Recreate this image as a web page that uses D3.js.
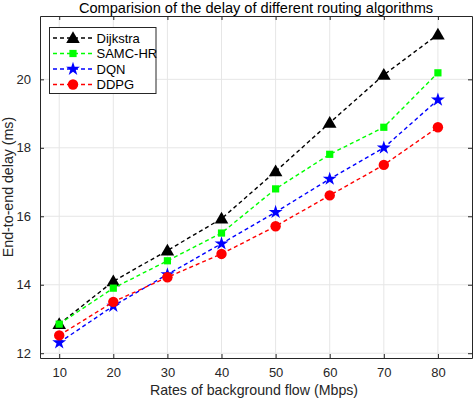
<!DOCTYPE html>
<html><head><meta charset="utf-8">
<script src="https://cdn.jsdelivr.net/npm/d3@7"></script>
<style>body{margin:0;background:#fff}svg{display:block}text{font-family:"Liberation Sans",Arial,sans-serif}</style>
</head><body><svg id="c" width="474" height="399"></svg>
<script>
const rates = [10, 20, 30, 40, 50, 60, 70, 80];
const dijkstra = [12.85, 14.1, 15.0, 15.93, 17.31, 18.73, 20.13, 21.31];
const samcHr   = [12.85, 13.9, 14.7, 15.51, 16.8, 17.81, 18.6, 20.19];
const dqn      = [12.31, 13.38, 14.3, 15.2, 16.12, 17.09, 18.0, 19.4];
const ddpg     = [12.52, 13.5, 14.22, 14.9, 15.71, 16.61, 17.5, 18.6];
const seriesNames = ["Dijkstra", "SAMC-HR", "DQN", "DDPG"];
const xTicks = [10, 20, 30, 40, 50, 60, 70, 80];
const yTicks = [12, 14, 16, 18, 20];

const series = [
  {name: seriesNames[0], values: dijkstra, color: "#000000", sym: d3.symbolTriangle, size: 80},
  {name: seriesNames[1], values: samcHr, color: "#00ff00", sym: d3.symbolSquare, size: 52},
  {name: seriesNames[2], values: dqn, color: "#0000ff", sym: d3.symbolStar, size: 60},
  {name: seriesNames[3], values: ddpg, color: "#ff0000", sym: d3.symbolCircle, size: 85}
];

const svg = d3.select("#c");
const L = 40, R = 472, T = 16, B = 358;
const x = d3.scaleLinear().domain([6.45, 86.3]).range([L, R]);
const y = d3.scaleLinear().domain([11.86, 21.85]).range([B, T]);

// grid
const g = svg.append("g");
g.selectAll(".gx").data(xTicks).enter().append("line")
  .attr("x1", d => x(d)).attr("x2", d => x(d)).attr("y1", T).attr("y2", B)
  .attr("stroke", "#e6e6e6").attr("stroke-width", 1);
g.selectAll(".gy").data(yTicks).enter().append("line")
  .attr("y1", d => y(d)).attr("y2", d => y(d)).attr("x1", L).attr("x2", R)
  .attr("stroke", "#e6e6e6").attr("stroke-width", 1);

// axes
const axCol = "#262626";
const xb = svg.append("g").attr("transform", `translate(0,${B})`)
  .call(d3.axisBottom(x).tickValues(xTicks).tickSize(-4).tickPadding(10).tickSizeOuter(0));
const xt = svg.append("g").attr("transform", `translate(0,${T})`)
  .call(d3.axisTop(x).tickValues(xTicks).tickSize(-4).tickFormat("").tickSizeOuter(0));
const yl = svg.append("g").attr("transform", `translate(${L},0)`)
  .call(d3.axisLeft(y).tickValues(yTicks).tickSize(-4).tickPadding(9).tickSizeOuter(0));
const yr = svg.append("g").attr("transform", `translate(${R},0)`)
  .call(d3.axisRight(y).tickValues(yTicks).tickSize(-4).tickFormat("").tickSizeOuter(0));
[xb, xt, yl, yr].forEach(a => {
  a.selectAll("path").attr("stroke", axCol).attr("stroke-width", 1);
  a.selectAll("line").attr("stroke", axCol);
  a.selectAll("text").attr("fill", axCol).style("font-size", "13px").style("font-family", "'Liberation Sans',Arial,sans-serif");
});

// lines & markers
const line = d3.line().x((d, i) => x(rates[i])).y(d => y(d));
series.forEach(s => {
  svg.append("path").datum(s.values).attr("d", line)
    .attr("fill", "none").attr("stroke", s.color).attr("stroke-width", 1.4)
    .attr("stroke-dasharray", "4,3");
  svg.selectAll(null).data(s.values).enter().append("path")
    .attr("d", d3.symbol().type(s.sym).size(s.size))
    .attr("transform", (d, i) => `translate(${x(rates[i])},${y(d) + (s.sym === d3.symbolTriangle ? 1 : 0)})`)
    .attr("fill", s.color);
});

// legend
const lg = svg.append("g");
lg.append("rect").attr("x", 49.5).attr("y", 27.5).attr("width", 106.5).attr("height", 66)
  .attr("fill", "#fff").attr("stroke", axCol).attr("stroke-width", 1);
series.forEach((s, i) => {
  const yy = 38 + i * 15.5;
  lg.append("line").attr("x1", 53).attr("x2", 93).attr("y1", yy).attr("y2", yy)
    .attr("stroke", s.color).attr("stroke-width", 1.4).attr("stroke-dasharray", "4,3");
  lg.append("path").attr("d", d3.symbol().type(s.sym).size(s.size))
    .attr("transform", `translate(73,${yy + (s.sym === d3.symbolTriangle ? 1 : 0)})`).attr("fill", s.color);
  lg.append("text").attr("x", 96.5).attr("y", yy + 4.5).text(s.name)
    .style("font-size", "13px").attr("fill", "#000");
});

// title & labels
svg.append("text").attr("x", 256).attr("y", 13).attr("text-anchor", "middle")
  .style("font-size", "14.6px").attr("fill", "#000")
  .text("Comparision of the delay of different routing algorithms");
svg.append("text").attr("x", 254).attr("y", 395).attr("text-anchor", "middle")
  .style("font-size", "14.2px").attr("fill", axCol)
  .text("Rates of background flow (Mbps)");
svg.append("text").attr("transform", `translate(13,${(T + B) / 2}) rotate(-90)`)
  .attr("text-anchor", "middle").style("font-size", "14.2px").attr("fill", axCol)
  .text("End-to-end delay (ms)");
</script></body></html>
